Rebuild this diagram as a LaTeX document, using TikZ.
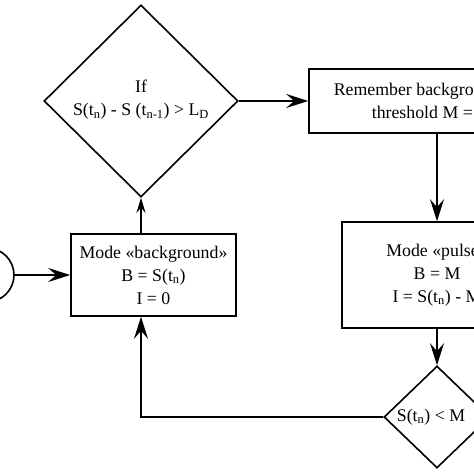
\documentclass[tikz,border=0pt]{standalone}
\usepackage{fontspec}
\setmainfont{Liberation Serif}
\usetikzlibrary{shapes.geometric,arrows.meta}
\begin{document}
\begin{tikzpicture}[x=1bp,y=-1bp, line width=1.6bp,
  font=\fontsize{17.8bp}{23bp}\selectfont,
  arr/.style={-{Stealth[length=22bp,width=14bp,inset=8bp]}},
  arrs/.style={-{Stealth[length=15bp,width=9bp,inset=5bp]}},
  box/.style={draw, rectangle, inner sep=0pt, align=center},
  dia/.style={draw, diamond, inner sep=0pt},
  txt/.style={inner sep=0pt, align=center}]
\path[use as bounding box, clip] (0,0) rectangle (474,474);

\node[dia, minimum width=194bp, minimum height=192bp] (d1) at (141,101) {};
\node[txt] (d1t) at (141,100) {If\\S(t\textsubscript{n}) - S (t\textsubscript{n-1}) > L\textsubscript{D}};

\node[box, minimum width=256bp, minimum height=64bp] (rem) at (437,101) {};
\node[txt, anchor=west, align=left] (remt) at (333,101) {Remember background\\\hspace*{38bp}threshold M =};

\node[box, minimum width=190bp, minimum height=106bp] (pulse) at (437,275) {Mode «pulse»\\B = M\\I = S(t\textsubscript{n}) - M};

\node[dia, minimum width=106bp, minimum height=102bp] (d2) at (437,417) {};
\node[txt] (d2t) at (431,417) {S(t\textsubscript{n}) < M};

\node[box, minimum width=165bp, minimum height=82bp] (bg) at (153.5,275) {Mode «background»\\B = S(t\textsubscript{n})\\I = 0};

\node[circle, draw, minimum size=54bp, inner sep=0pt] (start) at (-13,275) {};

\draw[arr] (start.east) -- (bg.west);
\draw[arrs] (d1.south |- bg.north) -- (d1.south);
\draw[arr] (d1.east) -- (rem.west);
\draw[arr] (rem.south) -- (pulse.north);
\draw[arr] (pulse.south) -- (d2.north);
\draw[arr] (d2.west) -- (d1.south |- d2.west) -- (d1.south |- bg.south);
\end{tikzpicture}
\end{document}
